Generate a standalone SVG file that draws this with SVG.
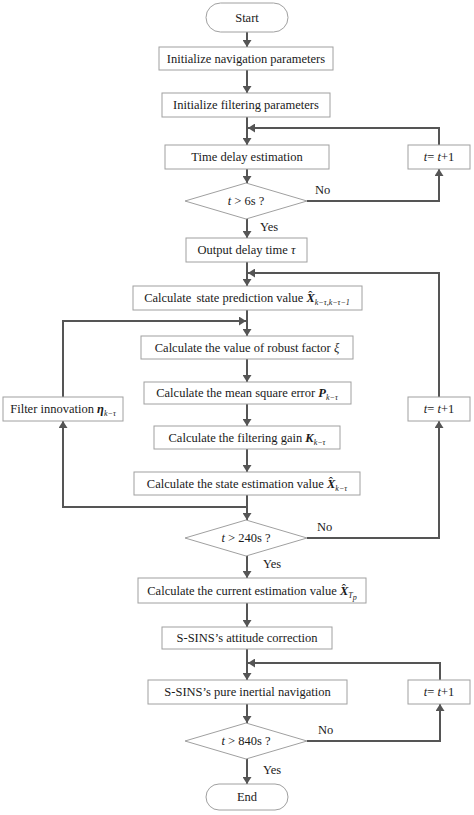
<svg xmlns="http://www.w3.org/2000/svg" width="474" height="815" viewBox="0 0 474 815">
<style>
.box{fill:#fff;stroke:#a0a0a0;stroke-width:1}
.ln{fill:none;stroke:#555;stroke-width:2}
text{font-family:"Liberation Serif","Times New Roman",serif;font-size:12.5px;fill:#1a1a1a;text-anchor:middle}
.lab{text-anchor:start}
.i{font-style:italic}
.bi{font-style:italic;font-weight:bold}
.sub{font-style:italic;font-size:8px}
</style>
<defs>
<marker id="ah" viewBox="0 0 7 9" refX="7" refY="4.5" markerWidth="7" markerHeight="9" markerUnits="userSpaceOnUse" orient="auto">
<path d="M0,0 L7,4.5 L0,9 z" fill="#555"/>
</marker>
</defs>
<rect width="474" height="815" fill="#fff"/>
<g id="connectors">
<line class="ln" x1="247" y1="32" x2="247" y2="47" marker-end="url(#ah)"/>
<line class="ln" x1="247" y1="70" x2="247" y2="93" marker-end="url(#ah)"/>
<line class="ln" x1="247" y1="117" x2="247" y2="145" marker-end="url(#ah)"/>
<polyline class="ln" points="439,145 439,128 248,128" marker-end="url(#ah)"/>
<line class="ln" x1="247" y1="169" x2="247" y2="183" marker-end="url(#ah)"/>
<polyline class="ln" points="307,201 439,201 439,169" marker-end="url(#ah)"/>
<line class="ln" x1="247" y1="219" x2="247" y2="238" marker-end="url(#ah)"/>
<line class="ln" x1="247" y1="262" x2="247" y2="286" marker-end="url(#ah)"/>
<polyline class="ln" points="439,397 439,273 248,273" marker-end="url(#ah)"/>
<line class="ln" x1="247" y1="310" x2="247" y2="336" marker-end="url(#ah)"/>
<polyline class="ln" points="63,397 63,321 246,321" marker-end="url(#ah)"/>
<line class="ln" x1="247" y1="359" x2="247" y2="382" marker-end="url(#ah)"/>
<line class="ln" x1="247" y1="404" x2="247" y2="426" marker-end="url(#ah)"/>
<line class="ln" x1="247" y1="449" x2="247" y2="472" marker-end="url(#ah)"/>
<line class="ln" x1="247" y1="495" x2="247" y2="520" marker-end="url(#ah)"/>
<polyline class="ln" points="247,507 63,507 63,421" marker-end="url(#ah)"/>
<polyline class="ln" points="307,538 439,538 439,421" marker-end="url(#ah)"/>
<line class="ln" x1="247" y1="556" x2="247" y2="578" marker-end="url(#ah)"/>
<line class="ln" x1="247" y1="603" x2="247" y2="627" marker-end="url(#ah)"/>
<line class="ln" x1="247" y1="649" x2="247" y2="680" marker-end="url(#ah)"/>
<polyline class="ln" points="440,680 440,663 248,663" marker-end="url(#ah)"/>
<line class="ln" x1="247" y1="704" x2="247" y2="723" marker-end="url(#ah)"/>
<polyline class="ln" points="307,741 440,741 440,704" marker-end="url(#ah)"/>
<line class="ln" x1="247" y1="759" x2="247" y2="784" marker-end="url(#ah)"/>
<text class="lab" x="315" y="194">No</text>
<text class="lab" x="260" y="231">Yes</text>
<text class="lab" x="317" y="531">No</text>
<text class="lab" x="263" y="568">Yes</text>
<text class="lab" x="318" y="734">No</text>
<text class="lab" x="263" y="774">Yes</text>
</g>
<g id="start"><rect class="box" x="206" y="3" width="82" height="29" rx="14.5"/><text x="247" y="22">Start</text></g>
<g id="init-nav"><rect class="box" x="159" y="47" width="174" height="23"/><text x="246" y="63">Initialize navigation parameters</text></g>
<g id="init-filter"><rect class="box" x="162" y="93" width="168" height="24"/><text x="246" y="109">Initialize filtering parameters</text></g>
<g id="time-delay"><rect class="box" x="165" y="145" width="164" height="24"/><text x="247" y="161">Time delay estimation</text></g>
<g id="inc1"><rect class="box" x="408" y="145" width="62" height="24"/><text x="439" y="161"><tspan class="i">t</tspan>= <tspan class="i">t</tspan>+1</text></g>
<g id="dec1"><polygon class="box" points="185,201 246,183 307,201 246,219"/><text x="246" y="205"><tspan class="i">t</tspan> &gt; 6s ?</text></g>
<g id="output-delay"><rect class="box" x="186" y="238" width="121" height="24"/><text x="246.5" y="254">Output delay time <tspan class="i">τ</tspan></text></g>
<g id="state-pred"><rect class="box" x="133" y="286" width="229" height="24"/><text x="247" y="302">Calculate  <tspan dx="2">state prediction value </tspan><tspan class="bi">X</tspan><tspan dx="-6.6" dy="-2.5">ˆ</tspan><tspan class="sub" dx="2.4" dy="5.5">k−τ,k−τ−1</tspan></text></g>
<g id="robust"><rect class="box" x="141" y="336" width="212" height="23"/><text x="247" y="352">Calculate the value of robust factor <tspan class="i">ξ</tspan></text></g>
<g id="mse"><rect class="box" x="144" y="382" width="207" height="22"/><text x="247" y="397">Calculate the mean square error <tspan class="bi">P</tspan><tspan class="sub" dy="3">k−τ</tspan></text></g>
<g id="innovation"><rect class="box" x="3" y="397" width="120" height="24"/><text x="63" y="413">Filter innovation <tspan class="bi">η</tspan><tspan class="sub" dy="3">k−τ</tspan></text></g>
<g id="inc2"><rect class="box" x="408" y="397" width="62" height="24"/><text x="439" y="413"><tspan class="i">t</tspan>= <tspan class="i">t</tspan>+1</text></g>
<g id="gain"><rect class="box" x="154" y="426" width="186" height="23"/><text x="247" y="442">Calculate the filtering gain <tspan class="bi">K</tspan><tspan class="sub" dy="3">k−τ</tspan></text></g>
<g id="state-est"><rect class="box" x="134" y="472" width="226" height="23"/><text x="247" y="488">Calculate the state estimation value <tspan class="bi">X</tspan><tspan dx="-6.6" dy="-2.5">ˆ</tspan><tspan class="sub" dx="2.4" dy="5.5">k−τ</tspan></text></g>
<g id="dec2"><polygon class="box" points="185,538 246,520 307,538 246,556"/><text x="246" y="542"><tspan class="i">t</tspan> &gt; 240s ?</text></g>
<g id="current-est"><rect class="box" x="138" y="578" width="228" height="25"/><text x="252" y="595">Calculate the current estimation value <tspan class="bi">X</tspan><tspan dx="-6.6" dy="-2.5">ˆ</tspan><tspan class="sub" dx="2.4" dy="5.5">T</tspan><tspan class="sub" font-size="6" dy="2">p</tspan></text></g>
<g id="attitude"><rect class="box" x="162" y="627" width="170" height="22"/><text x="247" y="642">S-SINS’s attitude correction</text></g>
<g id="pure-inertial"><rect class="box" x="148" y="680" width="199" height="24"/><text x="247.5" y="696">S-SINS’s pure inertial navigation</text></g>
<g id="inc3"><rect class="box" x="408" y="680" width="62" height="24"/><text x="439" y="696"><tspan class="i">t</tspan>= <tspan class="i">t</tspan>+1</text></g>
<g id="dec3"><polygon class="box" points="185,741 246,723 307,741 246,759"/><text x="246" y="745"><tspan class="i">t</tspan> &gt; 840s ?</text></g>
<g id="end"><rect class="box" x="206" y="784" width="82" height="26" rx="13"/><text x="247" y="801">End</text></g>
</svg>
